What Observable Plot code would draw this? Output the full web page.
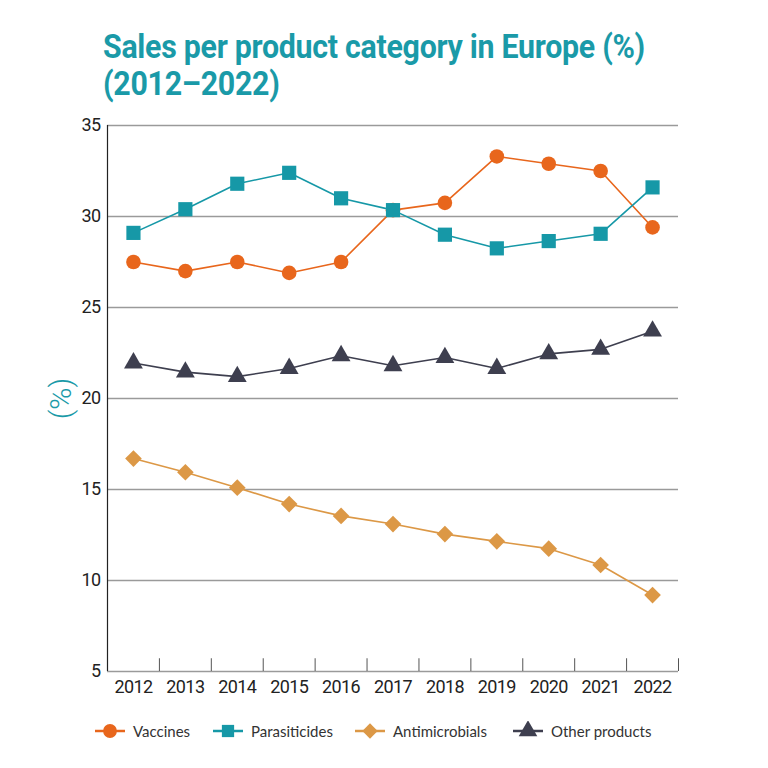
<!DOCTYPE html>
<html>
<head>
<meta charset="utf-8">
<script src="https://cdn.jsdelivr.net/npm/d3@7"></script>
<script src="https://cdn.jsdelivr.net/npm/@observablehq/plot@0.6"></script>
<style>
  html, body { margin: 0; padding: 0; background: #fff; }
  #wrap { position: relative; width: 768px; height: 768px; overflow: hidden; }
  #title {
    position: absolute; left: 103px; top: 28px;
    font-family: Roboto, "Noto Sans", sans-serif; font-weight: 700;
    font-size: 33px; line-height: 37px; color: #1a9aa8;
    transform-origin: 0 0; white-space: nowrap; letter-spacing: -0.3px;
  }
  #chart { position: absolute; left: 0; top: 0; }
  #legend {
    position: absolute; left: 0; top: 718px; width: 768px; height: 26px;
    font-family: Lato, "Open Sans", sans-serif; font-size: 15px; color: #333;
  }
  .item { position: absolute; top: 0; display: flex; align-items: center; height: 26px; }
  .item svg { margin-right: 8px; }
</style>
</head>
<body>
<div id="wrap">
  <div id="title"></div>
  <div id="chart"></div>
  <div id="legend"></div>
</div>
<script>
// Share of sales per product category, Europe, 2012–2022 (%)
const titleLines = ["Sales per product category in Europe (%)", "(2012–2022)"];
const yLabel = "(%)";
const years = [2012, 2013, 2014, 2015, 2016, 2017, 2018, 2019, 2020, 2021, 2022];
const yTicks = [5, 10, 15, 20, 25, 30, 35];

const seriesNames = ["Vaccines", "Parasiticides", "Antimicrobials", "Other products"];
const seriesColors = ["#e8661c", "#1698a7", "#dc9846", "#3e3f4f"];
const seriesSymbols = ["circle", "square", "diamond2", "triangle"];

const vaccines       = [27.5, 27.0, 27.5, 26.9, 27.5, 30.35, 30.75, 33.3, 32.9, 32.5, 29.4];
const parasiticides  = [29.1, 30.4, 31.8, 32.4, 31.0, 30.35, 29.0, 28.25, 28.65, 29.05, 31.6];
const antimicrobials = [16.7, 15.95, 15.1, 14.2, 13.55, 13.1, 12.55, 12.15, 11.75, 10.85, 9.2];
const otherProducts  = [21.95, 21.45, 21.2, 21.65, 22.35, 21.8, 22.25, 21.65, 22.45, 22.7, 23.7];

const seriesValues = [vaccines, parasiticides, antimicrobials, otherProducts];
// Marker radius per series
const seriesRadius = [7.3, 8, 7.5, 7];

// Long-format table built from the arrays above
const rows = [];
seriesNames.forEach((name, i) => {
  years.forEach((year, j) => rows.push({series: name, year, value: seriesValues[i][j]}));
});

// Title
const titleEl = document.getElementById("title");
titleEl.innerHTML = titleLines.map(t => `<div>${t}</div>`).join("");

// Boundaries between year bands, used for the small x-axis ticks
const bounds = years.slice(1).map(y => y - 0.5).concat([years[years.length - 1] + 0.5]);

const tickFont = "Roboto, 'Noto Sans', sans-serif";

const chart = Plot.plot({
  width: 768,
  height: 700,
  marginTop: 125,
  marginBottom: 29,
  marginLeft: 107,
  marginRight: 90,
  x: {domain: [years[0] - 0.5, years[years.length - 1] + 0.5]},
  y: {domain: [5, 35]},
  color: {domain: seriesNames, range: seriesColors},
  symbol: {domain: seriesNames, range: seriesSymbols},
  style: {fontFamily: tickFont, color: "#222"},
  marks: [
    Plot.ruleY(yTicks.slice(1), {stroke: "#9a9a9a", strokeWidth: 1.6}),
    Plot.ruleY([5], {stroke: "#9a9a9a", strokeWidth: 1.6}),
    Plot.ruleX(bounds, {y1: 5, y2: 5.7, stroke: "#555", strokeWidth: 1}),
    Plot.ruleX([years[0] - 0.5], {stroke: "#222", strokeWidth: 1.2}),
    Plot.axisY({ticks: yTicks, tickSize: 0, tickPadding: 7, fontSize: 18, label: null}),
    Plot.axisX({ticks: years, tickSize: 0, tickPadding: 9, fontSize: 18, tickFormat: d => String(d), label: null}),
    Plot.text([yLabel], {frameAnchor: "left", textAnchor: "middle", rotate: -90, dx: -46, fill: "#1a9aa8", fontSize: 30, fontWeight: 300}),
    Plot.line(rows, {x: "year", y: "value", z: "series", stroke: "series", strokeWidth: 1.6}),
    ...seriesNames.map((name, i) =>
      Plot.dot(rows.filter(d => d.series === name), {x: "year", y: "value", symbol: "series", fill: "series", r: seriesRadius[i]})
    )
  ]
});
document.getElementById("chart").appendChild(chart);

// Slightly tighter tick labels
d3.select(chart).selectAll("g[aria-label='y-axis tick label'] text, g[aria-label='x-axis tick label'] text")
  .style("letter-spacing", "-0.6px");

// Fit title width
{
  const first = titleEl.firstChild;
  const w = first.getBoundingClientRect().width;
  const s = 542 / w;
  titleEl.style.transform = `scale(${s}, 1)`;
}

// Legend: line swatch with marker, then series name
const legendX = [95, 213, 355, 513];
const legend = d3.select("#legend");
seriesNames.forEach((name, i) => {
  const item = legend.append("div").attr("class", "item").style("left", legendX[i] + "px");
  const svg = item.append("svg").attr("width", 30).attr("height", 20);
  svg.append("line").attr("x1", 0).attr("x2", 30).attr("y1", 10).attr("y2", 10)
    .attr("stroke", seriesColors[i]).attr("stroke-width", 2.5);
  const sym = {circle: d3.symbolCircle, square: d3.symbolSquare, diamond2: d3.symbolDiamond2, triangle: d3.symbolTriangle}[seriesSymbols[i]];
  svg.append("path").attr("transform", "translate(15,10)")
    .attr("d", d3.symbol(sym, 150)()).attr("fill", seriesColors[i]);
  item.append("span").text(name);
});
</script>
</body>
</html>
